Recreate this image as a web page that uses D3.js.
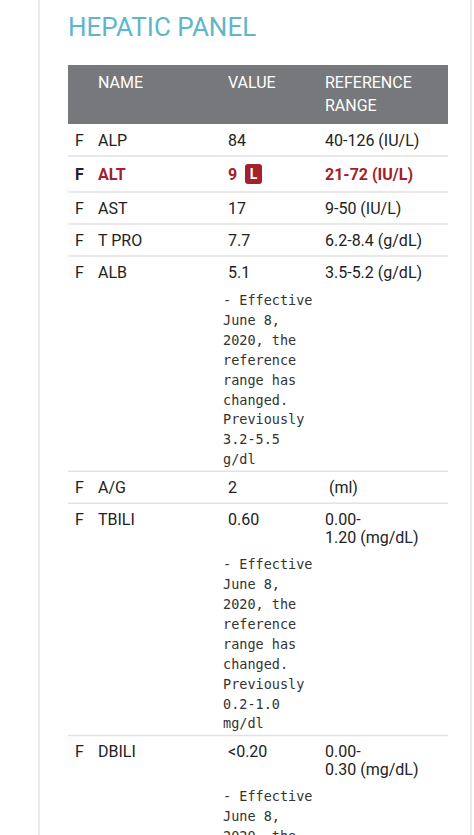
<!DOCTYPE html>
<html>
<head>
<meta charset="utf-8">
<script src="https://cdn.jsdelivr.net/npm/d3@7"></script>
<style>
  body { margin: 0; background: #fff; }
  text { font-family: Roboto, "Noto Sans", sans-serif; white-space: pre; }
</style>
</head>
<body>
<script>
const flags = ['F', 'F', 'F', 'F', 'F', 'F', 'F', 'F'];
const names = ['ALP', 'ALT', 'AST', 'T PRO', 'ALB', 'A/G', 'TBILI', 'DBILI'];
const values = ['84', '9', '17', '7.7', '5.1', '2', '0.60', '<0.20'];
const ranges = [['40-126 (IU/L)'], ['21-72 (IU/L)'], ['9-50 (IU/L)'], ['6.2-8.4 (g/dL)'],
  ['3.5-5.2 (g/dL)'], [' (ml)'], ['0.00-', '1.20 (mg/dL)'], ['0.00-', '0.30 (mg/dL)']];
const lowFlags = [false, true, false, false, false, false, false, false];
const noteAlb = ['- Effective', 'June 8,', '2020, the', 'reference', 'range has', 'changed.', 'Previously', '3.2-5.5', 'g/dl'];
const noteTbili = ['- Effective', 'June 8,', '2020, the', 'reference', 'range has', 'changed.', 'Previously', '0.2-1.0', 'mg/dl'];
const noteDbili = ['- Effective', 'June 8,', '2020, the', 'reference', 'range has', 'changed.', 'Previously', '0.0-0.3', 'mg/dl'];
const notes = [null, null, null, null, noteAlb, null, noteTbili, noteDbili];
const headers = [['NAME'], ['VALUE'], ['REFERENCE', 'RANGE']];

const W = 474, H = 835;
const svg = d3.select('body').append('svg').attr('width', W).attr('height', H);

const tableLeft = 68, tableRight = 448;
const cols = { flag: 75, name: 98, value: 228, range: 325 };
const red = '#a4202a';

// card edges
svg.append('line').attr('x1', 39).attr('x2', 39).attr('y1', 0).attr('y2', H).attr('stroke', '#e3e3e3').attr('stroke-width', 1.5);
svg.append('line').attr('x1', 471).attr('x2', 471).attr('y1', 0).attr('y2', H).attr('stroke', '#e3e3e3').attr('stroke-width', 1.5);

svg.append('text').attr('x', 68).attr('y', 36).attr('font-size', 26).attr('fill', '#5db7c8').text('HEPATIC PANEL');

// header
svg.append('rect').attr('x', tableLeft).attr('y', 65).attr('width', tableRight - tableLeft).attr('height', 59).attr('fill', '#77787b');
const hx = [cols.name, cols.value, cols.range];
headers.forEach((lines, i) => {
  lines.forEach((l, j) => {
    svg.append('text').attr('x', hx[i]).attr('y', 88 + j * 23).attr('font-size', 16).attr('fill', '#fff').text(l);
  });
});

// rows
let rowTop = 124;
names.forEach((n, i) => {
  const low = lowFlags[i];
  const c = rowTop + (low ? 18 : 16);
  const g = svg.append('g');
  const fw = low ? 'bold' : 'normal';
  g.append('text').attr('x', cols.flag).attr('y', c + 6).attr('font-size', 16).attr('font-weight', fw).attr('fill', '#222').text(flags[i]);
  g.append('text').attr('x', cols.name).attr('y', c + 6).attr('font-size', 16).attr('font-weight', fw).attr('fill', low ? red : '#222').text(n);
  g.append('text').attr('x', cols.value).attr('y', c + 6).attr('font-size', 16).attr('font-weight', fw).attr('fill', low ? red : '#222').text(values[i]);
  if (low) {
    g.append('rect').attr('x', 245).attr('y', c - 10).attr('width', 17).attr('height', 20).attr('rx', 3).attr('fill', red);
    g.append('text').attr('x', 253.5).attr('y', c + 5).attr('text-anchor', 'middle').attr('font-size', 14).attr('font-weight', 'bold').attr('fill', '#fff').text('L');
  }
  ranges[i].forEach((r, j) => {
    g.append('text').attr('x', cols.range).attr('y', c + 6 + j * 18).attr('font-size', 16).attr('font-weight', fw)
      .attr('fill', low ? red : '#222').text(r);
  });
  let h = low ? 36 : 32;
  const note = notes[i];
  if (note) {
    const n0 = rowTop + 44 + (ranges[i].length - 1) * 17;
    note.forEach((l, j) => {
      g.append('text').attr('x', 223).attr('y', n0 + 5 + j * 19.9)
        .style('font-family', '"DejaVu Sans Mono", monospace').attr('font-size', 13.5).attr('fill', '#333').text(l);
    });
    h = n0 + (note.length - 1) * 19.9 + 12 - rowTop;
  }
  rowTop += h;
  svg.append('line').attr('x1', tableLeft).attr('x2', tableRight).attr('y1', rowTop).attr('y2', rowTop).attr('stroke', '#e2e2e2').attr('stroke-width', 1.5);
});
</script>
</body>
</html>
